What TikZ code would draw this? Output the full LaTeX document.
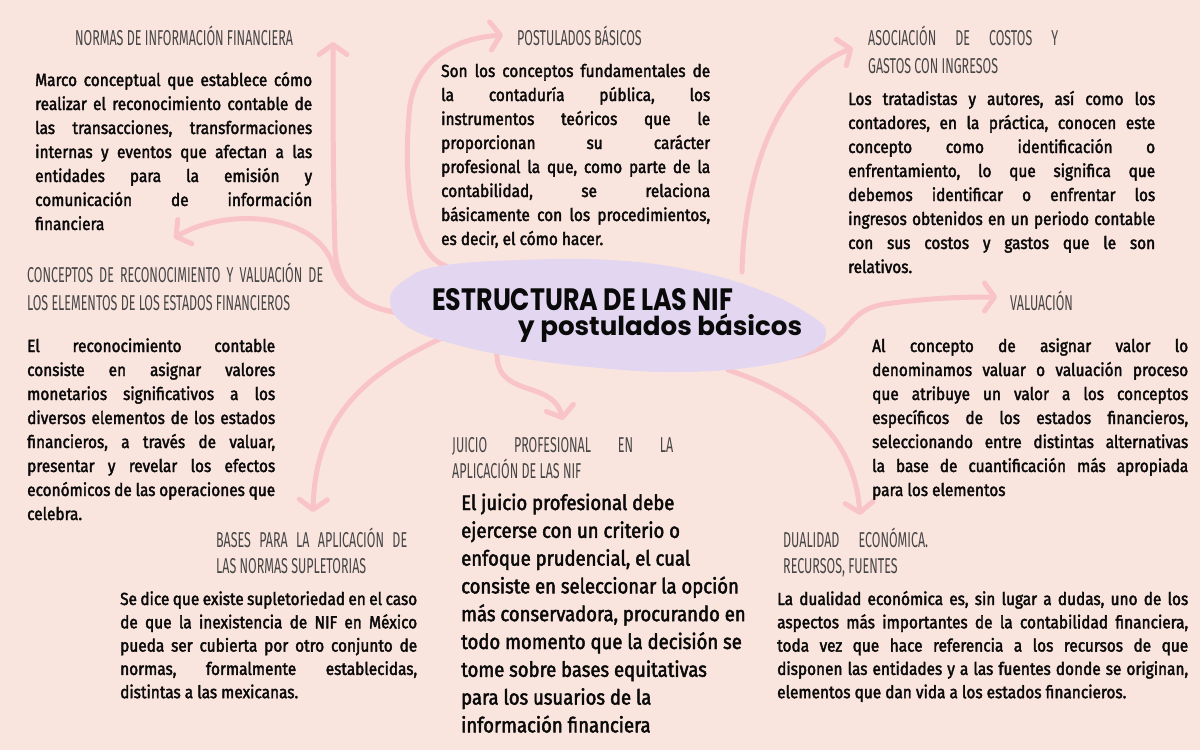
\documentclass[tikz,border=0pt]{standalone}
\usepackage{fontspec}
\usetikzlibrary{arrows.meta}
\newfontfamily\bodyfont{Fira Sans}[FakeStretch=0.88, FakeBold=2.2]
\newfontfamily\headfont{Fira Sans}[FakeStretch=0.58]
\newfontfamily\titlefont{Poppins}
\definecolor{bg}{RGB}{250,228,222}
\definecolor{arr}{RGB}{248,196,200}
\definecolor{blobc}{RGB}{226,214,240}
\definecolor{headc}{RGB}{70,70,70}
\definecolor{ink}{RGB}{10,10,10}
\newcommand\jl[2]{\hbox to #1pt{\spaceskip=0.28em plus 1fil minus 0.1em\relax #2}}
\newcommand\nl[1]{\hbox{#1}}
\newcommand\parlines[2]{\vtop{\baselineskip=#1pt\lineskiplimit=-100pt\lineskip=0pt #2}}
\tikzset{
  bodytxt/.style={anchor=base west, inner sep=0pt, text=ink, font=\bodyfont\fontsize{17.5}{24}\selectfont\frenchspacing},
  bigtxt/.style={anchor=base west, inner sep=0pt, text=ink, font=\bodyfont\fontsize{21}{28}\selectfont\frenchspacing},
  headtxt/.style={anchor=base west, inner sep=0pt, text=headc, font=\headfont\fontsize{21.5}{28}\selectfont\frenchspacing},
  arrowline/.style={draw=arr, line width=5pt, line cap=round, -{Straight Barb[length=10pt,width=28pt,round]}},
}
\begin{document}
\begin{tikzpicture}[x=1pt,y=-1pt]
\fill[bg] (0,0) rectangle (1200,750);
\useasboundingbox (0,0) rectangle (1200,750);

% named coordinates for connectors
\coordinate (bl) at (394,312);
\coordinate (btl) at (446,266);
\coordinate (bb) at (497,350);
\coordinate (bbl) at (442,338);
\coordinate (btr) at (742,272);
\coordinate (br) at (772,360);
\coordinate (bbr) at (728,370);
\coordinate (tNormas) at (333,42);
\coordinate (tConceptos) at (174,238);
\coordinate (tPost) at (503,35);
\coordinate (tJuicio) at (563,420);
\coordinate (tBases) at (313,512);
\coordinate (tAsoc) at (853,48);
\coordinate (tVal) at (997,297);
\coordinate (tDual) at (860,515);

% connectors
\draw[arrowline] (bl) .. controls (355,305) and (338,285) .. (335,250) .. controls (333,180) and (333,100) .. (tNormas);
\draw[arrowline] (bl) .. controls (355,305) and (338,285) .. (332,262) .. controls (312,212) and (225,208) .. (tConceptos);
\draw[arrowline] (btl) .. controls (405,252) and (404,160) .. (410,105) .. controls (418,55) and (460,38) .. (tPost);
\draw[arrowline] (bb) .. controls (494,400) and (552,378) .. (tJuicio);
\draw[arrowline] (bbl) .. controls (350,380) and (315,430) .. (tBases);
\draw[arrowline] (btr) .. controls (745,150) and (790,72) .. (tAsoc);
\draw[arrowline] (br) .. controls (860,350) and (835,312) .. (885,304) .. controls (930,298) and (960,297) .. (tVal);
\draw[arrowline] (bbr) .. controls (820,400) and (855,450) .. (tDual);

% central blob
\fill[blobc] plot[smooth cycle, tension=0.7] coordinates {(390,300) (405,280) (440,266) (520,260) (610,260) (690,270) (760,290) (810,315) (826,333) (810,352) (760,366) (680,372) (600,368) (520,358) (450,343) (405,325)};
\node[anchor=base west, inner sep=0pt, text=ink] (title1) at (432,310) {\resizebox{301pt}{22pt}{\titlefont\bfseries ESTRUCTURA DE LAS NIF}};
\node[anchor=base west, inner sep=0pt, text=ink] (title2) at (518,335) {\resizebox{284pt}{!}{\titlefont\bfseries y postulados básicos}};

% headings
\node[headtxt] (hNormas) at (75,45) {NORMAS DE INFORMACIÓN FINANCIERA};
\node[headtxt] (hPost) at (517,45) {POSTULADOS BÁSICOS};
\node[headtxt] (hAsoc) at (868,45) {\parlines{28}{\jl{190}{ASOCIACIÓN DE COSTOS Y}\nl{GASTOS CON INGRESOS}}};
\node[headtxt] (hConc) at (27,282) {\parlines{28}{\jl{296}{CONCEPTOS DE RECONOCIMIENTO Y VALUACIÓN DE}\nl{LOS ELEMENTOS DE LOS ESTADOS FINANCIEROS}}};
\node[headtxt] (hVal) at (1010,310) {VALUACIÓN};
\node[headtxt] (hJuicio) at (452,452) {\parlines{26}{\jl{221}{JUICIO PROFESIONAL EN LA}\nl{APLICACIÓN DE LAS NIF}}};
\node[headtxt] (hBases) at (216,547) {\parlines{26}{\jl{191}{BASES PARA LA APLICACIÓN DE}\nl{LAS NORMAS SUPLETORIAS}}};
\node[headtxt] (hDual) at (783,547) {\parlines{26}{\jl{145}{DUALIDAD ECONÓMICA.}\nl{RECURSOS, FUENTES}}};

% bodies
\node[bodytxt] (bNormas) at (35,86) {\parlines{24}{%
\jl{277}{Marco conceptual que establece cómo}%
\jl{277}{realizar el reconocimiento contable de}%
\jl{277}{las transacciones, transformaciones}%
\jl{277}{internas y eventos que afectan a las}%
\jl{277}{entidades para la emisión y}%
\jl{277}{comunicación de información}%
\nl{financiera}}};

\node[bodytxt] (bPost) at (441,77) {\parlines{24}{%
\jl{269}{Son los conceptos fundamentales de}%
\jl{269}{la contaduría pública, los}%
\jl{269}{instrumentos teóricos que le}%
\jl{269}{proporcionan su carácter}%
\jl{269}{profesional la que, como parte de la}%
\jl{269}{contabilidad, se relaciona}%
\jl{269}{básicamente con los procedimientos,}%
\nl{es decir, el cómo hacer.}}};

\node[bodytxt] (bAsoc) at (848,105) {\parlines{24}{%
\jl{307}{Los tratadistas y autores, así como los}%
\jl{307}{contadores, en la práctica, conocen este}%
\jl{307}{concepto como identificación o}%
\jl{307}{enfrentamiento, lo que significa que}%
\jl{307}{debemos identificar o enfrentar los}%
\jl{307}{ingresos obtenidos en un periodo contable}%
\jl{307}{con sus costos y gastos que le son}%
\nl{relativos.}}};

\node[bodytxt] (bConc) at (27,352) {\parlines{24}{%
\jl{248}{El reconocimiento contable}%
\jl{248}{consiste en asignar valores}%
\jl{248}{monetarios significativos a los}%
\jl{248}{diversos elementos de los estados}%
\jl{248}{financieros, a través de valuar,}%
\jl{248}{presentar y revelar los efectos}%
\jl{248}{económicos de las operaciones que}%
\nl{celebra.}}};

\node[bodytxt] (bVal) at (872,352) {\parlines{24}{%
\jl{316}{Al concepto de asignar valor lo}%
\jl{316}{denominamos valuar o valuación proceso}%
\jl{316}{que atribuye un valor a los conceptos}%
\jl{316}{específicos de los estados financieros,}%
\jl{316}{seleccionando entre distintas alternativas}%
\jl{316}{la base de cuantificación más apropiada}%
\nl{para los elementos}}};

\node[bigtxt] (bJuicio) at (461,510) {\parlines{27.8}{%
\nl{El juicio profesional debe}%
\nl{ejercerse con un criterio o}%
\nl{enfoque prudencial, el cual}%
\nl{consiste en seleccionar la opción}%
\nl{más conservadora, procurando en}%
\nl{todo momento que la decisión se}%
\nl{tome sobre bases equitativas}%
\nl{para los usuarios de la}%
\nl{información financiera}}};

\node[bodytxt] (bBases) at (120,605) {\parlines{23.3}{%
\jl{297}{Se dice que existe supletoriedad en el caso}%
\jl{297}{de que la inexistencia de NIF en México}%
\jl{297}{pueda ser cubierta por otro conjunto de}%
\jl{297}{normas, formalmente establecidas,}%
\nl{distintas a las mexicanas.}}};

\node[bodytxt] (bDual) at (777,605) {\parlines{23.3}{%
\jl{411}{La dualidad económica es, sin lugar a dudas, uno de los}%
\jl{411}{aspectos más importantes de la contabilidad financiera,}%
\jl{411}{toda vez que hace referencia a los recursos de que}%
\jl{411}{disponen las entidades y a las fuentes donde se originan,}%
\nl{elementos que dan vida a los estados financieros.}}};
\end{tikzpicture}
\end{document}
